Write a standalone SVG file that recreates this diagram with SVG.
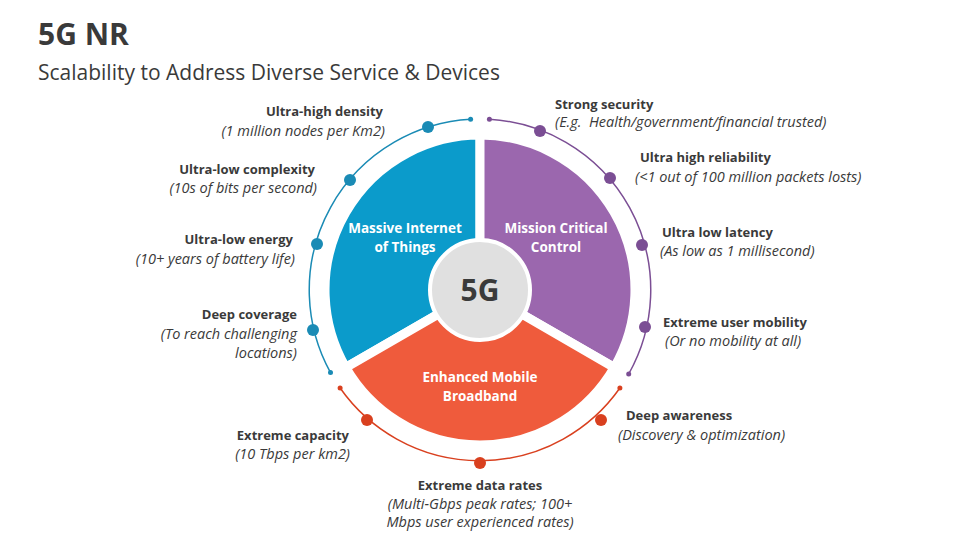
<svg xmlns="http://www.w3.org/2000/svg" width="960" height="540" viewBox="0 0 960 540">
<style>
text{font-family:"Open Sans","Liberation Sans",sans-serif;fill:#3a3a3a}
.h{font-size:13px;font-weight:bold}
.s{font-size:14.5px;font-style:italic}
.r{text-anchor:end}.m{text-anchor:middle}
.w{fill:#fff;font-size:13.5px;font-weight:bold;text-anchor:middle}
.seg{stroke:#fff;stroke-width:9}
</style>
<rect width="960" height="540" fill="#fff"/>
<text x="38" y="45" style="font-size:30px;font-weight:bold">5G NR</text>
<text x="38" y="80" style="font-size:21px">Scalability to Address Diverse Service &amp; Devices</text>
<g id="connectors" fill="none" stroke-width="1.5">
<path d="M470.6,119.3 A171,171 0 0 0 330.5,372.6" stroke="#1A8BB5"/>
<path d="M489.4,119.3 A171,171 0 0 1 628.7,374" stroke="#7B4E94"/>
<path d="M619.9,388 A171,171 0 0 1 340.1,388" stroke="#D9401F"/>
</g>
<g id="dots">
<g fill="#1A8BB5"><circle cx="470.6" cy="119.3" r="2.5"/><circle cx="330.5" cy="372.6" r="2.5"/><circle cx="428" cy="127" r="6"/><circle cx="350" cy="180" r="6"/><circle cx="317" cy="244" r="6"/><circle cx="313" cy="330" r="6"/></g>
<g fill="#7B4E94"><circle cx="489.4" cy="119.3" r="2.5"/><circle cx="628.7" cy="374" r="2.5"/><circle cx="540" cy="131" r="6"/><circle cx="610" cy="178" r="6"/><circle cx="642" cy="245" r="6"/><circle cx="645" cy="327" r="6"/></g>
<g fill="#D9401F"><circle cx="619.9" cy="388" r="2.5"/><circle cx="340.1" cy="388" r="2.5"/><circle cx="601" cy="420" r="6"/><circle cx="480" cy="463" r="6"/><circle cx="367" cy="420" r="6"/></g>
</g>
<g id="iot"><path class="seg" d="M480,290 L345.8,367.5 A155,155 0 0 1 480,135 Z" fill="#0B9BCB"/><text class="w" x="405" y="233">Massive Internet</text><text class="w" x="405" y="252">of Things</text></g>
<g id="mcc"><path class="seg" d="M480,290 L480,135 A155,155 0 0 1 614.2,367.5 Z" fill="#9B67AE"/><text class="w" x="556" y="233">Mission Critical</text><text class="w" x="556" y="252">Control</text></g>
<g id="embb"><path class="seg" d="M480,290 L614.2,367.5 A155,155 0 0 1 345.8,367.5 Z" fill="#EF5B3C"/><text class="w" x="480" y="382">Enhanced Mobile</text><text class="w" x="480" y="401">Broadband</text></g>
<g id="center"><circle cx="480" cy="290" r="50" fill="#e0e0e0" stroke="#fff" stroke-width="4"/><text x="480" y="301" class="m" style="font-size:30px;font-weight:bold">5G</text></g>
<g id="labels">
<text class="h r" x="383" y="116">Ultra-high density</text><text class="s r" x="385" y="136">(1 million nodes per Km2)</text>
<text class="h r" x="315" y="174">Ultra-low complexity</text><text class="s r" x="317" y="193">(10s of bits per second)</text>
<text class="h r" x="293" y="244">Ultra-low energy</text><text class="s r" x="295" y="264">(10+ years of battery life)</text>
<text class="h r" x="297" y="319">Deep coverage</text><text class="s r" x="297" y="339">(To reach challenging</text><text class="s r" x="297" y="358">locations)</text>
<text class="h r" x="349" y="440">Extreme capacity</text><text class="s r" x="350" y="459">(10 Tbps per km2)</text>
<text class="h m" x="480" y="490">Extreme data rates</text><text class="s m" x="480" y="509">(Multi-Gbps peak rates; 100+</text><text class="s m" x="480" y="527">Mbps user experienced rates)</text>
<text class="h" x="555" y="109">Strong security</text><text class="s" x="555" y="127">(E.g. &#160;Health/government/financial trusted)</text>
<text class="h" x="640" y="162">Ultra high reliability</text><text class="s" x="635" y="182">(&lt;1 out of 100 million packets losts)</text>
<text class="h" x="662" y="237">Ultra low latency</text><text class="s" x="660" y="256">(As low as 1 millisecond)</text>
<text class="h" x="663" y="327">Extreme user mobility</text><text class="s" x="665" y="346">(Or no mobility at all)</text>
<text class="h" x="626" y="420">Deep awareness</text><text class="s" x="618" y="440">(Discovery &amp; optimization)</text>
</g>
</svg>
